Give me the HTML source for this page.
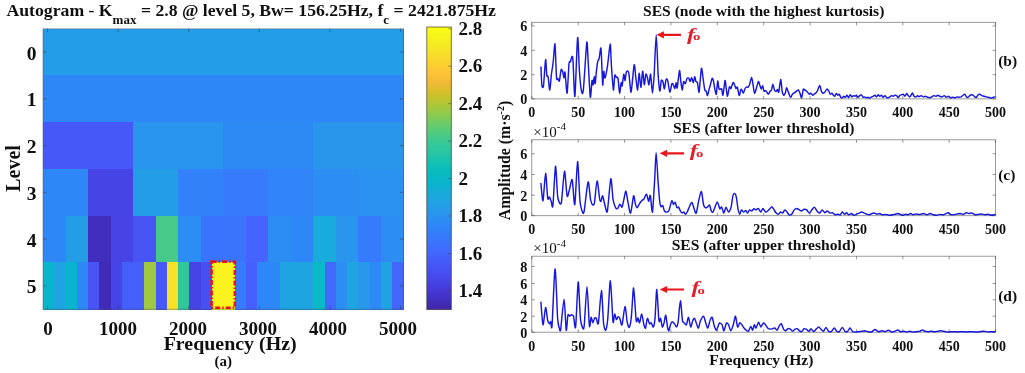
<!DOCTYPE html>
<html><head><meta charset="utf-8"><title>Autogram figure</title>
<style>html,body{margin:0;padding:0;background:#fff}body{width:1025px;height:373px;position:relative;overflow:hidden}</style>
</head><body>
<svg width="1025" height="373" viewBox="0 0 1025 373" style="position:absolute;left:0;top:0">
<rect x="0" y="0" width="1025" height="373" fill="#fff"/>
<g shape-rendering="crispEdges">
<rect x="43.00" y="28.70" width="360.80" height="47.05" fill="#239ee6"/>
<rect x="43.00" y="75.45" width="180.55" height="47.05" fill="#2e87f7"/>
<rect x="223.25" y="75.45" width="180.55" height="47.05" fill="#2e87f7"/>
<rect x="43.00" y="122.20" width="90.42" height="47.05" fill="#4658f7"/>
<rect x="133.12" y="122.20" width="90.42" height="47.05" fill="#2995ed"/>
<rect x="223.25" y="122.20" width="90.42" height="47.05" fill="#2d8af5"/>
<rect x="313.38" y="122.20" width="90.42" height="47.05" fill="#2996ec"/>
<rect x="43.00" y="168.95" width="45.36" height="47.05" fill="#2e87f7"/>
<rect x="88.06" y="168.95" width="45.36" height="47.05" fill="#4744e5"/>
<rect x="133.12" y="168.95" width="45.36" height="47.05" fill="#239ee6"/>
<rect x="178.19" y="168.95" width="45.36" height="47.05" fill="#3281f9"/>
<rect x="223.25" y="168.95" width="45.36" height="47.05" fill="#377afc"/>
<rect x="268.31" y="168.95" width="45.36" height="47.05" fill="#3084f8"/>
<rect x="313.38" y="168.95" width="45.36" height="47.05" fill="#2c8ef2"/>
<rect x="358.44" y="168.95" width="45.36" height="47.05" fill="#2a91f0"/>
<rect x="43.00" y="215.70" width="22.83" height="47.05" fill="#2e87f7"/>
<rect x="65.53" y="215.70" width="22.83" height="47.05" fill="#239ee6"/>
<rect x="88.06" y="215.70" width="22.83" height="47.05" fill="#412ebe"/>
<rect x="110.59" y="215.70" width="22.83" height="47.05" fill="#4744e5"/>
<rect x="133.12" y="215.70" width="22.83" height="47.05" fill="#4755f5"/>
<rect x="155.66" y="215.70" width="22.83" height="47.05" fill="#46c989"/>
<rect x="178.19" y="215.70" width="22.83" height="47.05" fill="#2c8ef2"/>
<rect x="200.72" y="215.70" width="22.83" height="47.05" fill="#3a74fc"/>
<rect x="223.25" y="215.70" width="22.83" height="47.05" fill="#3a74fc"/>
<rect x="245.78" y="215.70" width="22.83" height="47.05" fill="#4563fd"/>
<rect x="268.31" y="215.70" width="22.83" height="47.05" fill="#2c8ef2"/>
<rect x="290.84" y="215.70" width="22.83" height="47.05" fill="#2e87f7"/>
<rect x="313.38" y="215.70" width="22.83" height="47.05" fill="#18abdb"/>
<rect x="335.91" y="215.70" width="22.83" height="47.05" fill="#2995ed"/>
<rect x="358.44" y="215.70" width="22.83" height="47.05" fill="#367bfb"/>
<rect x="380.97" y="215.70" width="22.83" height="47.05" fill="#2c8ef2"/>
<rect x="43.00" y="262.45" width="11.57" height="47.05" fill="#08b6cb"/>
<rect x="54.27" y="262.45" width="11.57" height="47.05" fill="#1ea5e1"/>
<rect x="65.53" y="262.45" width="11.57" height="47.05" fill="#0ab4cf"/>
<rect x="76.80" y="262.45" width="11.57" height="47.05" fill="#2e87f7"/>
<rect x="88.06" y="262.45" width="11.57" height="47.05" fill="#4755f5"/>
<rect x="99.33" y="262.45" width="11.57" height="47.05" fill="#402bb6"/>
<rect x="110.59" y="262.45" width="11.57" height="47.05" fill="#4744e5"/>
<rect x="121.86" y="262.45" width="11.57" height="47.05" fill="#455ffb"/>
<rect x="133.12" y="262.45" width="11.57" height="47.05" fill="#455ffb"/>
<rect x="144.39" y="262.45" width="11.57" height="47.05" fill="#a0c941"/>
<rect x="155.66" y="262.45" width="11.57" height="47.05" fill="#4658f7"/>
<rect x="166.92" y="262.45" width="11.57" height="47.05" fill="#f6e028"/>
<rect x="178.19" y="262.45" width="11.57" height="47.05" fill="#32c79a"/>
<rect x="189.45" y="262.45" width="11.57" height="47.05" fill="#4744e5"/>
<rect x="200.72" y="262.45" width="11.57" height="47.05" fill="#4751f3"/>
<rect x="211.98" y="262.45" width="11.57" height="47.05" fill="#fcf31e"/>
<rect x="223.25" y="262.45" width="11.57" height="47.05" fill="#fcf31e"/>
<rect x="234.52" y="262.45" width="11.57" height="47.05" fill="#367bfb"/>
<rect x="245.78" y="262.45" width="11.57" height="47.05" fill="#455ffb"/>
<rect x="257.05" y="262.45" width="11.57" height="47.05" fill="#2e87f7"/>
<rect x="268.31" y="262.45" width="11.57" height="47.05" fill="#2e87f7"/>
<rect x="279.58" y="262.45" width="11.57" height="47.05" fill="#1ea5e1"/>
<rect x="290.84" y="262.45" width="11.57" height="47.05" fill="#1ea5e1"/>
<rect x="302.11" y="262.45" width="11.57" height="47.05" fill="#1ea5e1"/>
<rect x="313.38" y="262.45" width="11.57" height="47.05" fill="#09b9c5"/>
<rect x="324.64" y="262.45" width="11.57" height="47.05" fill="#416afd"/>
<rect x="335.91" y="262.45" width="11.57" height="47.05" fill="#2c8ef2"/>
<rect x="347.17" y="262.45" width="11.57" height="47.05" fill="#1ea5e1"/>
<rect x="358.44" y="262.45" width="11.57" height="47.05" fill="#2898eb"/>
<rect x="369.70" y="262.45" width="11.57" height="47.05" fill="#2d8af5"/>
<rect x="380.97" y="262.45" width="11.57" height="47.05" fill="#21a2e3"/>
<rect x="392.23" y="262.45" width="11.57" height="47.05" fill="#4366fd"/>
</g>
<rect x="43.00" y="28.70" width="360.50" height="280.50" fill="none" stroke="#3a4a6a" stroke-opacity="0.55" stroke-width="0.8"/>
<rect x="211.6" y="261.6" width="23.2" height="46.2" fill="none" stroke="#e8141c" stroke-width="2.6" stroke-dasharray="5 2 1.5 2"/>
<path d="M47.5 309.2v-3.5M47.5 28.7v3.5M118.1 309.2v-3.5M118.1 28.7v3.5M188.7 309.2v-3.5M188.7 28.7v3.5M259.3 309.2v-3.5M259.3 28.7v3.5M329.9 309.2v-3.5M329.9 28.7v3.5M400.5 309.2v-3.5M400.5 28.7v3.5M43.0 52.1h3.5M403.5 52.1h-3.5M43.0 98.8h3.5M403.5 98.8h-3.5M43.0 145.6h3.5M403.5 145.6h-3.5M43.0 192.3h3.5M403.5 192.3h-3.5M43.0 239.1h3.5M403.5 239.1h-3.5M43.0 285.8h3.5M403.5 285.8h-3.5" stroke="#26324a" stroke-opacity="0.6" stroke-width="0.8" fill="none"/>
<defs><linearGradient id="cb" x1="0" y1="1" x2="0" y2="0">
<stop offset="0.00" stop-color="#3e26a8"/>
<stop offset="0.02" stop-color="#402bb6"/>
<stop offset="0.04" stop-color="#4231c5"/>
<stop offset="0.06" stop-color="#4536d3"/>
<stop offset="0.08" stop-color="#463ddd"/>
<stop offset="0.10" stop-color="#4744e5"/>
<stop offset="0.12" stop-color="#484aee"/>
<stop offset="0.14" stop-color="#4751f3"/>
<stop offset="0.16" stop-color="#4658f7"/>
<stop offset="0.18" stop-color="#455ffb"/>
<stop offset="0.20" stop-color="#4366fd"/>
<stop offset="0.22" stop-color="#3e6efc"/>
<stop offset="0.24" stop-color="#3a74fc"/>
<stop offset="0.26" stop-color="#367bfb"/>
<stop offset="0.28" stop-color="#3281f9"/>
<stop offset="0.30" stop-color="#2e87f7"/>
<stop offset="0.32" stop-color="#2c8ef2"/>
<stop offset="0.34" stop-color="#2995ed"/>
<stop offset="0.36" stop-color="#269be8"/>
<stop offset="0.38" stop-color="#21a2e3"/>
<stop offset="0.40" stop-color="#1ca8de"/>
<stop offset="0.42" stop-color="#14add7"/>
<stop offset="0.44" stop-color="#0cb2d0"/>
<stop offset="0.46" stop-color="#08b7c9"/>
<stop offset="0.48" stop-color="#09bac2"/>
<stop offset="0.50" stop-color="#0abeba"/>
<stop offset="0.52" stop-color="#14c1b2"/>
<stop offset="0.54" stop-color="#1fc4a9"/>
<stop offset="0.56" stop-color="#29c6a2"/>
<stop offset="0.58" stop-color="#32c79a"/>
<stop offset="0.60" stop-color="#3ec990"/>
<stop offset="0.62" stop-color="#4eca82"/>
<stop offset="0.64" stop-color="#5ccb75"/>
<stop offset="0.66" stop-color="#6ecc66"/>
<stop offset="0.68" stop-color="#82cb57"/>
<stop offset="0.70" stop-color="#96ca48"/>
<stop offset="0.72" stop-color="#aac73b"/>
<stop offset="0.74" stop-color="#bdc431"/>
<stop offset="0.76" stop-color="#cec02b"/>
<stop offset="0.78" stop-color="#dfbd2d"/>
<stop offset="0.80" stop-color="#f0ba36"/>
<stop offset="0.82" stop-color="#f7be37"/>
<stop offset="0.84" stop-color="#fec338"/>
<stop offset="0.86" stop-color="#fccc32"/>
<stop offset="0.88" stop-color="#fad42d"/>
<stop offset="0.90" stop-color="#f8dc2a"/>
<stop offset="0.92" stop-color="#f5e426"/>
<stop offset="0.94" stop-color="#f5eb21"/>
<stop offset="0.96" stop-color="#f5f31c"/>
<stop offset="0.98" stop-color="#f7f718"/>
<stop offset="1.00" stop-color="#f9fb15"/>
</linearGradient></defs>
<rect x="426.8" y="27.0" width="24.5" height="282.6" fill="url(#cb)" stroke="#3a3626" stroke-opacity="0.75" stroke-width="0.9"/>
<path d="M451.3 28.8h-3M451.3 66.2h-3M451.3 103.7h-3M451.3 141.1h-3M451.3 178.6h-3M451.3 216.0h-3M451.3 253.5h-3M451.3 290.9h-3" stroke="#333" stroke-opacity="0.6" stroke-width="0.8" fill="none"/>
<g font-family="'Liberation Serif', serif" fill="#0f0f0f">
<text x="6.5" y="15.9" font-size="17.7" font-weight="bold">Autogram - K<tspan font-size="13" dy="8">max</tspan><tspan dy="-8"> = 2.8 @ level 5, Bw= 156.25Hz, f</tspan><tspan font-size="13" dy="8">c</tspan><tspan dy="-8"> = 2421.875Hz</tspan></text>
<text x="36.5" y="59.7" font-size="19.5" font-weight="bold" text-anchor="end" >0</text>
<text x="36.5" y="106.4" font-size="19.5" font-weight="bold" text-anchor="end" >1</text>
<text x="36.5" y="153.2" font-size="19.5" font-weight="bold" text-anchor="end" >2</text>
<text x="36.5" y="199.9" font-size="19.5" font-weight="bold" text-anchor="end" >3</text>
<text x="36.5" y="246.7" font-size="19.5" font-weight="bold" text-anchor="end" >4</text>
<text x="36.5" y="293.4" font-size="19.5" font-weight="bold" text-anchor="end" >5</text>
<text x="48.0" y="335.0" font-size="19" font-weight="bold" text-anchor="middle" >0</text>
<text x="118.0" y="335.0" font-size="19" font-weight="bold" text-anchor="middle" >1000</text>
<text x="188.0" y="335.0" font-size="19" font-weight="bold" text-anchor="middle" >2000</text>
<text x="258.0" y="335.0" font-size="19" font-weight="bold" text-anchor="middle" >3000</text>
<text x="328.0" y="335.0" font-size="19" font-weight="bold" text-anchor="middle" >4000</text>
<text x="398.0" y="335.0" font-size="19" font-weight="bold" text-anchor="middle" >5000</text>
<text transform="translate(20,168.5) rotate(-90)" font-size="20" font-weight="bold" text-anchor="middle">Level</text>
<text x="230.2" y="349.8" font-size="18.8" font-weight="bold" text-anchor="middle" textLength="133" lengthAdjust="spacingAndGlyphs">Frequency (Hz)</text>
<text x="223.2" y="365.8" font-size="15" font-weight="bold" text-anchor="middle" >(a)</text>
<text x="458.5" y="34.9" font-size="19" font-weight="bold" text-anchor="start" >2.8</text>
<text x="458.5" y="72.3" font-size="19" font-weight="bold" text-anchor="start" >2.6</text>
<text x="458.5" y="109.8" font-size="19" font-weight="bold" text-anchor="start" >2.4</text>
<text x="458.5" y="147.2" font-size="19" font-weight="bold" text-anchor="start" >2.2</text>
<text x="458.5" y="184.7" font-size="19" font-weight="bold" text-anchor="start" >2</text>
<text x="458.5" y="222.1" font-size="19" font-weight="bold" text-anchor="start" >1.8</text>
<text x="458.5" y="259.6" font-size="19" font-weight="bold" text-anchor="start" >1.6</text>
<text x="458.5" y="297.1" font-size="19" font-weight="bold" text-anchor="start" >1.4</text>
<text transform="translate(509.5,160.5) rotate(-90)" font-size="15.8" font-weight="bold" text-anchor="middle">Amplitude (m·s<tspan font-size="10" dy="-6">-2</tspan><tspan dy="6">)</tspan></text>
</g>
<rect x="531.8" y="22.3" width="463.8" height="76.6" fill="none" stroke="#555" stroke-opacity="0.75" stroke-width="0.8"/>
<path d="M531.8 98.9v-3M531.8 22.3v3M578.2 98.9v-3M578.2 22.3v3M624.6 98.9v-3M624.6 22.3v3M670.9 98.9v-3M670.9 22.3v3M717.3 98.9v-3M717.3 22.3v3M763.7 98.9v-3M763.7 22.3v3M810.1 98.9v-3M810.1 22.3v3M856.5 98.9v-3M856.5 22.3v3M902.8 98.9v-3M902.8 22.3v3M949.2 98.9v-3M949.2 22.3v3M995.6 98.9v-3M995.6 22.3v3M531.8 98.9h3M995.6 98.9h-3M531.8 74.7h3M995.6 74.7h-3M531.8 50.3h3M995.6 50.3h-3M531.8 25.9h3M995.6 25.9h-3" stroke="#444" stroke-opacity="0.7" stroke-width="0.8" fill="none"/>
<path fill="none" stroke="#1616dc" stroke-width="1.45" stroke-linejoin="round" stroke-linecap="round" d="M541.0 67.0C541.1 69.3 541.5 82.3 541.8 84.8C542.1 87.2 543.0 89.1 543.5 85.8C544.0 82.5 545.1 61.0 545.6 59.7C546.0 58.3 546.5 73.1 546.8 75.3C547.2 77.6 547.7 74.9 548.1 76.8C548.5 78.7 549.3 90.3 549.8 90.0C550.2 89.7 551.0 77.8 551.4 74.3C551.9 70.8 552.6 66.7 553.1 62.8C553.6 58.9 554.6 42.1 555.0 44.0C555.4 45.9 556.1 73.0 556.5 77.4C556.8 81.9 557.5 78.0 557.9 78.5C558.3 78.9 559.0 82.1 559.4 81.0C559.8 79.9 560.6 70.9 561.1 69.7C561.5 68.5 562.3 70.7 562.7 71.8C563.1 72.9 563.7 78.0 564.0 78.1C564.3 78.1 564.6 70.3 565.0 72.2C565.4 74.2 566.6 94.2 567.1 93.1C567.6 92.0 568.6 67.9 569.0 63.8C569.4 59.8 570.1 62.7 570.5 61.7C570.8 60.8 571.6 56.7 571.9 56.5C572.3 56.4 572.6 55.5 573.0 60.7C573.4 65.9 574.3 98.6 574.9 96.3C575.5 93.3 577.0 40.8 577.6 37.7C578.2 34.6 578.9 65.2 579.5 72.2C580.0 79.2 581.0 89.2 581.6 91.5C582.1 93.7 582.8 95.7 583.4 89.4C584.1 83.0 586.2 45.8 586.8 42.5C587.4 39.2 587.8 56.7 588.3 63.8C588.7 71.0 589.9 95.1 590.3 97.3C590.8 98.6 591.7 82.2 592.0 80.6C592.4 78.9 592.8 85.3 593.1 84.8C593.4 84.3 594.0 76.9 594.3 76.8C594.6 76.7 594.9 84.2 595.2 83.7C595.4 83.3 595.9 76.1 596.2 73.3C596.5 70.4 597.3 63.7 597.7 61.7C598.0 59.8 598.7 60.3 599.1 58.6C599.6 56.9 600.6 45.2 601.0 48.6C601.5 52.0 602.3 81.8 602.7 84.8C603.0 87.7 603.4 72.0 603.7 71.2C604.0 70.3 604.5 78.7 605.0 78.1C605.5 77.4 606.8 70.4 607.5 65.9C608.2 61.5 609.7 44.2 610.2 44.0C610.7 43.7 610.9 57.9 611.3 63.8C611.7 69.8 612.9 88.5 613.4 90.0C613.8 91.5 614.4 77.0 614.8 75.3C615.2 73.7 615.9 77.0 616.3 77.4C616.7 77.8 617.5 76.4 618.0 78.5C618.4 80.5 619.2 92.6 619.6 93.1C620.0 93.7 620.8 83.6 621.1 82.7C621.4 81.7 621.8 86.9 622.1 85.8C622.5 84.7 623.4 75.0 623.8 74.3C624.2 73.6 624.7 80.8 625.1 80.6C625.4 80.3 625.9 73.4 626.3 72.2C626.7 71.0 627.6 70.9 628.0 71.2C628.4 71.4 628.6 71.6 629.0 74.3C629.5 77.0 630.5 93.3 631.1 92.1C631.8 90.9 633.5 66.9 634.1 64.9C634.7 62.9 635.3 73.5 635.7 76.8C636.2 80.1 637.2 90.5 637.6 90.0C638.1 89.5 638.7 73.6 639.1 73.3C639.5 72.9 640.5 87.5 641.0 87.3C641.4 87.0 642.2 71.5 642.6 71.2C643.1 70.8 643.9 84.4 644.3 84.8C644.7 85.2 645.4 75.3 645.8 74.3C646.2 73.3 646.8 75.5 647.2 76.8C647.7 78.2 648.5 85.1 648.9 84.8C649.4 84.4 650.1 73.2 650.6 74.3C651.1 75.4 652.0 93.1 652.5 93.1C652.9 93.1 653.7 81.9 654.2 74.3C654.6 66.7 655.7 35.0 656.2 35.0C656.8 35.0 657.7 67.0 658.1 74.3C658.6 81.6 659.4 90.2 659.8 91.0C660.2 91.9 660.9 81.8 661.3 80.6C661.7 79.4 662.5 80.5 662.9 81.6C663.3 82.7 664.0 89.2 664.4 88.9C664.8 88.7 665.6 80.6 666.1 79.5C666.5 78.4 667.3 78.9 667.7 80.6C668.2 82.2 669.3 91.7 669.8 92.1C670.4 92.5 671.5 84.7 671.9 83.7C672.4 82.8 673.0 84.1 673.4 84.8C673.8 85.4 674.5 88.8 674.9 88.5C675.2 88.3 675.8 82.8 676.1 82.7C676.4 82.6 676.7 89.5 677.2 87.9C677.6 86.3 679.0 71.5 679.5 70.5C679.9 69.6 680.4 78.0 680.7 80.6C681.1 83.1 681.8 89.9 682.2 90.0C682.6 90.1 683.2 82.4 683.6 81.6C684.1 80.8 684.9 84.1 685.3 83.7C685.8 83.3 686.6 79.2 687.0 78.5C687.4 77.8 688.3 77.7 688.7 78.1C689.1 78.5 689.8 81.7 690.1 81.6C690.5 81.5 691.2 77.3 691.6 77.4C692.0 77.6 692.9 82.8 693.3 82.7C693.7 82.6 694.4 76.9 694.7 76.8C695.1 76.7 695.6 80.9 696.0 81.6C696.3 82.4 697.0 81.3 697.5 82.7C697.9 84.0 698.6 93.9 699.1 92.1C699.6 90.2 700.9 70.2 701.4 68.4C701.9 66.7 702.7 75.7 703.1 78.5C703.5 81.3 704.4 88.4 704.8 90.0C705.2 91.6 705.9 90.3 706.2 91.0C706.6 91.8 707.1 95.9 707.5 95.6C707.9 95.4 708.8 90.4 709.2 88.9C709.6 87.5 710.0 86.1 710.4 84.8C710.8 83.4 711.7 79.0 712.1 78.5C712.5 77.9 713.0 79.2 713.4 80.6C713.7 81.9 714.4 87.2 714.8 88.9C715.2 90.7 715.9 95.2 716.3 94.2C716.7 93.1 717.4 81.7 717.7 81.0C718.1 80.3 718.5 87.9 719.0 88.9C719.5 90.0 721.2 88.1 721.7 88.9C722.2 89.8 722.5 96.3 722.9 95.2C723.4 94.1 724.6 81.4 725.0 80.6C725.5 79.8 725.9 86.9 726.3 88.9C726.6 91.0 727.1 96.5 727.5 96.3C727.9 96.0 729.0 87.9 729.4 86.9C729.8 85.8 730.4 89.1 730.9 88.5C731.3 88.0 732.5 83.2 733.0 82.7C733.5 82.2 734.3 84.0 734.6 84.8C735.0 85.5 735.5 88.2 735.9 88.5C736.3 88.9 736.9 86.3 737.4 87.3C737.8 88.2 738.8 95.4 739.2 95.6C739.7 95.9 740.5 90.0 740.9 89.4C741.3 88.7 741.8 90.1 742.2 90.6C742.5 91.1 743.1 93.4 743.4 93.1C743.8 92.9 744.7 89.3 745.1 88.5C745.5 87.7 746.2 87.0 746.6 86.9C746.9 86.7 747.7 87.5 748.0 87.3C748.4 87.0 749.0 86.0 749.5 84.8C750.0 83.5 751.1 77.4 751.6 77.4C752.1 77.4 752.7 82.7 753.1 84.8C753.4 86.8 754.1 92.6 754.5 93.1C754.9 93.7 755.7 90.4 756.2 88.9C756.7 87.4 757.8 82.2 758.3 81.6C758.7 81.1 759.4 83.8 759.7 84.8C760.1 85.7 760.8 88.8 761.2 88.9C761.6 89.1 762.3 85.5 762.7 85.8C763.0 86.1 763.6 90.4 763.9 91.0C764.3 91.7 765.0 90.5 765.4 90.6C765.8 90.8 766.5 91.6 766.9 92.1C767.2 92.5 767.9 94.3 768.3 94.2C768.8 94.0 769.8 91.6 770.2 91.0C770.6 90.5 771.1 90.9 771.5 90.0C771.8 89.1 772.5 84.3 772.9 84.3C773.3 84.3 774.0 89.1 774.4 90.0C774.8 90.9 775.7 91.5 776.1 91.5C776.5 91.4 777.2 89.3 777.5 89.4C777.9 89.4 778.4 93.4 778.8 92.1C779.2 90.8 780.2 79.7 780.7 79.5C781.1 79.4 781.8 89.0 782.1 91.0C782.5 93.1 783.2 94.9 783.6 95.2C784.0 95.5 784.9 94.1 785.3 93.1C785.7 92.2 786.2 88.2 786.5 87.9C786.9 87.6 787.6 90.1 788.0 91.0C788.4 92.0 789.1 94.4 789.5 95.2C789.8 96.0 790.5 97.4 790.9 97.3C791.3 97.2 792.0 94.7 792.4 94.2C792.8 93.6 793.5 93.4 793.8 93.1C794.2 92.9 794.9 92.4 795.3 92.1C795.7 91.8 796.6 90.9 797.0 90.6C797.4 90.3 798.1 89.7 798.5 90.0C798.8 90.3 799.5 92.1 799.9 93.1C800.3 94.1 801.2 98.2 801.6 97.7C802.0 97.2 802.9 90.4 803.3 89.4C803.7 88.4 804.3 89.8 804.7 90.0C805.1 90.2 806.0 90.7 806.4 91.0C806.8 91.4 807.5 92.3 807.9 92.7C808.3 93.1 809.1 94.1 809.5 94.2C809.9 94.2 810.6 93.0 811.0 93.1C811.4 93.3 812.3 95.1 812.7 95.2C813.1 95.4 813.7 94.4 814.1 94.2C814.6 93.9 815.4 93.5 815.8 93.1C816.2 92.7 816.8 92.0 817.3 91.0C817.8 90.0 819.3 85.4 819.8 85.4C820.3 85.4 820.9 90.0 821.3 91.0C821.6 92.0 822.3 92.9 822.7 93.1C823.1 93.3 823.8 93.0 824.2 92.7C824.6 92.4 825.3 91.5 825.6 91.0C826.0 90.5 826.7 88.9 827.1 88.9C827.5 88.9 828.4 90.4 828.8 91.0C829.2 91.7 829.8 93.9 830.3 94.2C830.7 94.4 831.5 93.0 831.9 93.1C832.3 93.3 833.0 94.8 833.4 95.2C833.7 95.6 834.3 96.5 834.6 96.3C835.0 96.1 835.9 93.7 836.3 93.5C836.7 93.4 837.4 95.1 837.8 95.2C838.2 95.3 838.9 93.9 839.2 94.2C839.6 94.4 840.3 96.9 840.7 97.3C841.1 97.8 842.0 97.9 842.4 97.7C842.8 97.6 843.4 96.3 843.8 96.3C844.3 96.2 845.1 97.4 845.5 97.3C845.9 97.2 846.6 95.2 847.0 95.2C847.4 95.3 848.0 97.8 848.5 97.7C848.9 97.7 849.7 94.9 850.1 94.8C850.6 94.7 851.4 96.8 851.8 96.9C852.2 97.0 852.9 95.7 853.3 95.6C853.7 95.6 854.5 96.3 854.9 96.3C855.3 96.2 856.0 95.1 856.4 95.2C856.8 95.4 857.6 97.3 858.1 97.3C858.5 97.4 859.3 96.0 859.7 95.6C860.2 95.3 861.0 94.6 861.4 94.8C861.9 95.0 862.7 97.0 863.1 97.3C863.5 97.6 864.3 96.8 864.8 96.9C865.2 96.9 866.0 97.7 866.4 97.7C866.9 97.8 867.7 97.3 868.1 97.3C868.6 97.4 869.4 98.2 869.8 98.2C870.2 98.1 871.0 97.1 871.5 96.9C871.9 96.7 872.7 96.5 873.1 96.3C873.6 96.1 874.4 95.1 874.8 95.2C875.2 95.3 876.1 96.9 876.5 96.9C876.9 96.8 877.7 94.9 878.2 94.8C878.6 94.7 879.4 96.2 879.8 96.3C880.3 96.3 881.1 95.1 881.5 95.2C881.9 95.4 882.7 97.3 883.2 97.3C883.6 97.4 884.4 95.6 884.9 95.6C885.3 95.6 886.1 97.0 886.5 97.3C887.0 97.6 887.8 97.8 888.2 97.7C888.6 97.7 889.4 97.2 889.9 96.9C890.3 96.6 891.1 95.7 891.5 95.6C892.0 95.6 892.8 96.3 893.2 96.3C893.7 96.2 894.5 95.3 894.9 95.2C895.3 95.1 896.1 95.3 896.6 95.6C897.0 96.0 897.8 97.8 898.2 97.7C898.7 97.7 899.5 95.6 899.9 95.2C900.4 94.8 901.2 94.9 901.6 94.8C902.0 94.7 902.8 94.0 903.3 94.2C903.7 94.4 904.5 96.3 904.9 96.3C905.4 96.2 906.2 93.6 906.6 93.5C907.0 93.5 907.8 95.2 908.3 95.6C908.7 96.1 909.5 97.1 910.0 96.9C910.4 96.7 911.3 94.7 911.6 94.2C912.0 93.7 912.1 92.9 912.5 93.1C912.8 93.4 913.7 95.8 914.1 96.3C914.6 96.8 915.4 97.0 915.8 96.9C916.3 96.8 917.1 95.7 917.5 95.6C917.9 95.6 918.5 96.4 918.7 96.5C919.0 96.6 919.2 96.6 919.6 96.5C919.9 96.4 920.7 95.6 921.2 95.6C921.7 95.7 922.8 96.8 923.3 96.9C923.9 97.0 924.9 96.2 925.4 96.3C926.0 96.3 927.0 97.1 927.5 97.3C928.1 97.5 929.1 97.8 929.6 97.7C930.1 97.7 931.2 97.2 931.7 96.9C932.2 96.6 933.2 95.7 933.8 95.6C934.3 95.6 935.3 96.3 935.9 96.3C936.4 96.2 937.4 95.2 938.0 95.2C938.5 95.2 939.5 96.3 940.1 96.5C940.6 96.7 941.6 97.0 942.2 96.9C942.7 96.8 943.7 95.6 944.2 95.6C944.8 95.7 945.8 97.2 946.3 97.3C946.9 97.4 947.9 96.2 948.4 96.3C949.0 96.3 950.0 97.6 950.5 97.7C951.1 97.9 952.1 97.3 952.6 97.3C953.2 97.3 954.2 97.8 954.7 97.7C955.3 97.7 956.3 96.9 956.8 96.9C957.3 96.8 958.3 97.3 958.9 97.3C959.4 97.3 960.4 97.2 961.0 96.9C961.5 96.6 962.6 95.6 963.1 95.2C963.6 94.9 964.3 94.0 964.7 94.2C965.2 94.4 966.0 96.5 966.4 96.9C966.9 97.3 967.7 97.5 968.1 97.3C968.5 97.2 969.3 96.0 969.8 95.6C970.2 95.3 971.0 94.9 971.4 94.8C971.9 94.7 972.7 94.9 973.1 95.2C973.6 95.5 974.4 96.6 974.8 96.9C975.2 97.2 976.0 97.6 976.5 97.3C976.9 97.0 977.7 95.2 978.1 94.8C978.6 94.4 979.3 94.1 979.8 94.2C980.3 94.3 981.4 95.4 981.9 95.6C982.4 95.9 983.5 96.1 984.0 96.3C984.5 96.4 985.5 96.8 986.1 96.9C986.6 97.0 987.6 97.2 988.2 97.3C988.7 97.4 989.7 97.9 990.3 97.9C990.8 98.0 991.8 97.9 992.4 97.7C992.9 97.6 994.2 97.0 994.5 96.9"/>
<rect x="531.8" y="139.8" width="463.8" height="75.9" fill="none" stroke="#555" stroke-opacity="0.75" stroke-width="0.8"/>
<path d="M531.8 215.7v-3M531.8 139.8v3M578.2 215.7v-3M578.2 139.8v3M624.6 215.7v-3M624.6 139.8v3M670.9 215.7v-3M670.9 139.8v3M717.3 215.7v-3M717.3 139.8v3M763.7 215.7v-3M763.7 139.8v3M810.1 215.7v-3M810.1 139.8v3M856.5 215.7v-3M856.5 139.8v3M902.8 215.7v-3M902.8 139.8v3M949.2 215.7v-3M949.2 139.8v3M995.6 215.7v-3M995.6 139.8v3M531.8 215.7h3M995.6 215.7h-3M531.8 195.2h3M995.6 195.2h-3M531.8 174.5h3M995.6 174.5h-3M531.8 153.7h3M995.6 153.7h-3" stroke="#444" stroke-opacity="0.7" stroke-width="0.8" fill="none"/>
<path fill="none" stroke="#1616dc" stroke-width="1.45" stroke-linejoin="round" stroke-linecap="round" d="M540.9 183.5C541.2 185.7 542.4 202.0 543.0 200.7C543.6 199.3 545.0 173.7 545.6 173.4C546.2 173.1 547.2 195.0 547.7 198.1C548.2 201.2 549.0 196.6 549.5 197.0C549.9 197.4 550.7 200.2 551.2 201.3C551.6 202.4 552.3 210.1 552.9 205.6C553.5 201.0 554.9 167.6 555.5 166.3C556.1 165.1 557.1 191.3 557.6 195.9C558.1 200.6 558.8 201.6 559.3 202.4C559.8 203.2 560.8 206.0 561.5 201.9C562.1 197.9 563.8 172.0 564.5 171.3C565.2 170.5 566.4 193.4 567.1 195.9C567.7 198.5 568.5 192.7 569.2 190.6C569.9 188.5 571.5 178.0 572.2 179.8C572.9 181.7 574.1 206.9 574.8 204.5C575.5 202.2 576.9 162.2 577.6 161.6C578.2 161.0 579.3 193.7 579.9 200.2C580.6 206.8 581.9 210.6 582.5 212.0C583.1 213.4 583.5 214.9 584.2 211.0C584.9 207.1 587.2 183.4 588.1 182.0C588.9 180.6 590.0 197.2 590.7 200.2C591.3 203.2 592.3 204.7 592.8 205.0C593.3 205.2 594.0 205.5 594.5 202.4C595.1 199.3 596.4 181.3 597.1 180.9C597.8 180.5 599.2 196.5 599.7 199.2C600.2 201.8 600.6 201.7 601.0 201.3C601.4 200.9 602.1 195.2 602.7 195.9C603.2 196.6 604.6 204.7 605.3 206.7C605.9 208.6 606.7 214.6 607.4 211.0C608.1 207.3 610.1 180.3 610.8 178.8C611.6 177.2 612.4 195.4 613.0 199.2C613.6 202.9 614.9 206.5 615.6 207.7C616.2 208.9 617.1 208.9 617.7 208.4C618.3 207.9 619.3 204.3 619.8 204.1C620.4 203.9 621.5 207.6 622.0 207.1C622.5 206.6 623.2 202.3 623.7 200.2C624.2 198.2 625.3 190.9 625.9 191.2C626.4 191.5 627.4 199.5 628.0 202.4C628.6 205.2 629.8 213.9 630.6 213.1C631.3 212.3 633.0 197.2 633.6 195.9C634.2 194.7 634.8 201.9 635.3 203.5C635.7 205.0 636.5 207.7 637.0 207.7C637.6 207.7 638.9 204.4 639.6 203.5C640.3 202.5 641.6 200.8 642.2 200.2C642.7 199.7 643.3 199.9 643.9 199.2C644.4 198.4 645.8 193.9 646.5 194.2C647.1 194.5 648.1 201.1 648.6 201.3C649.1 201.5 649.8 194.1 650.3 195.5C650.8 196.9 651.9 213.9 652.5 212.0C653.0 210.1 654.1 188.6 654.6 180.9C655.1 173.2 655.7 152.6 656.1 152.6C656.6 152.6 657.6 174.4 658.0 180.9C658.5 187.4 659.4 199.0 659.8 202.4C660.2 205.7 660.7 206.3 661.0 206.7C661.4 207.1 662.3 205.0 662.8 205.6C663.2 206.2 663.9 210.1 664.5 211.0C665.0 211.8 666.4 212.2 667.1 212.0C667.7 211.9 668.6 211.4 669.2 209.9C669.8 208.4 671.2 201.4 671.8 200.7C672.3 200.0 673.0 204.3 673.5 204.5C673.9 204.7 674.8 202.0 675.2 202.4C675.7 202.8 676.5 207.1 676.9 207.7C677.4 208.4 678.2 206.7 678.6 207.1C679.1 207.5 679.9 210.2 680.4 211.0C680.8 211.7 681.6 213.0 682.1 213.1C682.5 213.2 683.3 211.9 683.8 212.0C684.2 212.2 685.1 214.2 685.5 214.2C686.0 214.2 686.7 213.0 687.2 212.0C687.7 211.1 688.8 207.9 689.4 206.7C690.0 205.4 691.3 202.1 691.9 202.4C692.6 202.7 693.5 207.4 694.1 208.8C694.7 210.2 695.6 214.2 696.2 213.1C696.9 212.0 698.1 203.0 698.8 200.2C699.5 197.4 700.8 191.1 701.4 191.6C702.0 192.2 703.0 202.4 703.5 204.5C704.0 206.6 704.8 207.4 705.3 207.7C705.8 208.1 706.8 207.5 707.4 207.1C708.0 206.7 709.0 204.5 709.5 205.0C710.0 205.5 710.8 210.0 711.3 211.0C711.7 211.9 712.5 212.6 713.0 212.0C713.5 211.5 714.6 208.0 715.1 206.7C715.7 205.4 716.7 201.8 717.3 201.9C717.8 202.1 719.1 206.8 719.4 207.7C719.8 208.6 719.7 208.9 720.0 208.8C720.3 208.7 721.2 206.5 721.7 207.1C722.2 207.7 723.3 213.1 723.9 213.1C724.4 213.1 725.4 207.2 726.0 207.1C726.6 207.0 727.9 212.1 728.6 212.0C729.3 212.0 730.6 208.8 731.2 206.7C731.7 204.6 732.4 197.7 732.9 195.9C733.3 194.2 734.1 193.2 734.6 193.4C735.0 193.5 735.9 195.0 736.3 197.0C736.8 199.0 737.6 206.6 738.0 208.8C738.5 211.0 739.3 214.0 739.7 214.2C740.2 214.3 741.0 210.2 741.5 209.9C742.0 209.6 743.0 212.0 743.6 212.0C744.2 212.1 745.2 210.4 745.8 210.5C746.3 210.7 747.0 213.2 747.5 213.1C748.0 213.0 749.1 210.2 749.6 209.9C750.2 209.6 751.2 211.1 751.8 211.0C752.3 210.8 753.3 209.0 753.9 208.8C754.5 208.7 755.5 209.9 756.1 209.9C756.6 209.8 757.6 208.1 758.2 208.4C758.8 208.7 760.2 212.0 760.8 212.0C761.4 212.0 762.3 208.4 762.9 208.4C763.5 208.4 764.9 211.7 765.5 212.0C766.1 212.4 767.1 211.4 767.6 211.0C768.2 210.5 769.2 209.4 769.8 208.8C770.3 208.3 771.4 206.5 771.9 206.7C772.5 206.8 773.5 209.1 774.1 209.9C774.6 210.7 775.7 212.5 776.2 213.1C776.8 213.7 777.8 214.3 778.4 214.2C778.9 214.0 780.0 212.2 780.5 212.0C781.1 211.9 782.1 213.4 782.7 213.1C783.2 212.8 784.2 210.0 784.8 209.9C785.4 209.7 786.4 211.4 787.0 212.0C787.5 212.7 788.5 214.5 789.1 214.8C789.7 215.1 791.0 214.8 791.7 214.2C792.3 213.5 793.6 210.6 794.2 209.9C794.9 209.1 796.2 208.4 796.8 208.4C797.5 208.4 798.8 209.6 799.4 209.9C800.0 210.2 800.9 211.0 801.5 211.0C802.2 210.9 803.5 209.4 804.1 209.2C804.8 209.1 806.0 209.4 806.7 209.9C807.4 210.4 808.6 213.1 809.3 213.1C809.9 213.1 811.2 210.7 811.8 209.9C812.5 209.1 813.8 207.0 814.4 207.1C815.1 207.2 816.3 210.2 817.0 211.0C817.7 211.7 818.9 213.2 819.6 213.1C820.2 213.0 821.5 209.9 822.1 209.9C822.8 209.8 824.1 212.5 824.7 212.7C825.4 212.8 826.6 210.9 827.3 211.0C828.0 211.0 829.2 212.9 829.9 213.1C830.5 213.3 831.8 212.5 832.4 212.7C833.1 212.9 834.4 214.6 835.0 214.8C835.7 215.0 836.9 214.2 837.6 214.2C838.3 214.2 839.6 215.1 840.2 214.8C840.8 214.5 841.8 212.1 842.3 212.0C842.9 212.0 843.9 214.1 844.5 214.2C845.0 214.3 846.1 212.6 846.6 212.7C847.2 212.8 848.1 214.7 848.8 214.8C849.4 214.9 850.7 213.5 851.3 213.5C852.0 213.6 853.2 215.2 853.9 215.3C854.6 215.3 855.8 214.5 856.5 214.2C857.2 213.9 858.4 213.4 859.1 213.1C859.7 212.8 861.0 212.0 861.6 212.0C862.3 212.0 863.5 212.8 864.2 213.1C864.9 213.4 866.1 214.0 866.8 214.2C867.5 214.4 868.7 214.9 869.4 214.8C870.0 214.7 871.3 213.8 871.9 213.5C872.6 213.3 873.8 213.0 874.5 213.1C875.2 213.2 876.4 214.1 877.1 214.2C877.8 214.2 879.0 213.5 879.7 213.5C880.3 213.6 881.6 214.7 882.2 214.8C882.9 214.9 884.1 214.4 884.8 214.4C885.5 214.4 886.7 214.7 887.4 214.8C888.1 214.9 889.3 215.3 890.0 215.3C890.6 215.3 891.9 215.0 892.5 214.8C893.2 214.7 894.4 214.3 895.1 214.2C895.8 214.0 897.0 213.5 897.7 213.5C898.4 213.6 899.6 214.2 900.3 214.4C900.9 214.6 902.2 215.3 902.8 215.3C903.5 215.2 904.7 214.2 905.4 214.2C906.1 214.1 907.3 214.9 908.0 214.8C908.7 214.7 909.9 213.5 910.6 213.5C911.2 213.5 912.5 214.8 913.1 214.8C913.8 214.9 915.0 214.0 915.7 214.0C916.4 213.9 917.7 214.3 918.3 214.4C918.9 214.5 919.8 214.5 920.5 214.4C921.2 214.3 922.9 213.5 923.7 213.5C924.5 213.6 926.1 214.8 926.9 214.8C927.8 214.8 929.3 213.5 930.2 213.5C931.0 213.5 932.5 214.6 933.4 214.8C934.2 215.0 935.8 215.3 936.6 215.3C937.4 215.2 939.0 214.5 939.8 214.4C940.6 214.3 942.2 214.9 943.0 214.8C943.9 214.7 945.5 213.8 946.2 213.5C946.9 213.3 947.8 212.6 948.4 212.7C948.9 212.8 949.8 214.1 950.5 214.4C951.2 214.7 952.9 214.9 953.8 214.8C954.6 214.8 956.1 214.1 957.0 214.0C957.8 213.8 959.4 213.5 960.2 213.5C961.0 213.6 962.6 214.5 963.4 214.4C964.2 214.3 965.5 212.8 966.2 212.7C966.9 212.6 968.0 213.5 968.8 213.5C969.5 213.6 971.2 212.9 972.0 213.1C972.8 213.3 974.4 214.7 975.2 214.8C976.1 215.0 977.6 214.5 978.4 214.4C979.3 214.3 980.8 213.9 981.7 214.0C982.5 214.0 984.0 214.8 984.9 214.8C985.7 214.9 987.3 214.1 988.1 214.2C988.9 214.2 990.5 215.2 991.3 215.3C992.1 215.3 994.1 214.9 994.5 214.8"/>
<rect x="531.8" y="256.2" width="463.8" height="76.0" fill="none" stroke="#555" stroke-opacity="0.75" stroke-width="0.8"/>
<path d="M531.8 332.2v-3M531.8 256.2v3M578.2 332.2v-3M578.2 256.2v3M624.6 332.2v-3M624.6 256.2v3M670.9 332.2v-3M670.9 256.2v3M717.3 332.2v-3M717.3 256.2v3M763.7 332.2v-3M763.7 256.2v3M810.1 332.2v-3M810.1 256.2v3M856.5 332.2v-3M856.5 256.2v3M902.8 332.2v-3M902.8 256.2v3M949.2 332.2v-3M949.2 256.2v3M995.6 332.2v-3M995.6 256.2v3M531.8 332.2h3M995.6 332.2h-3M531.8 316.2h3M995.6 316.2h-3M531.8 299.8h3M995.6 299.8h-3M531.8 283.5h3M995.6 283.5h-3M531.8 266.5h3M995.6 266.5h-3" stroke="#444" stroke-opacity="0.7" stroke-width="0.8" fill="none"/>
<path fill="none" stroke="#1616dc" stroke-width="1.45" stroke-linejoin="round" stroke-linecap="round" d="M540.9 302.3C541.2 305.2 542.4 324.1 543.0 324.8C543.6 325.5 545.0 308.2 545.6 307.6C546.2 307.1 547.2 318.4 547.7 320.5C548.2 322.6 549.1 323.6 549.5 323.7C549.8 323.9 550.4 321.3 550.7 321.6C551.1 321.9 551.5 331.9 552.0 325.9C552.6 319.1 554.3 270.0 555.0 269.0C555.8 268.0 557.1 310.7 557.6 318.4C558.2 326.0 558.9 326.5 559.3 328.0C559.7 329.6 560.0 331.9 560.6 330.2C561.2 326.4 563.3 299.1 564.1 299.1C564.8 299.1 565.7 328.1 566.2 330.2C566.7 331.9 567.5 317.0 567.9 315.2C568.4 313.3 569.2 316.3 569.6 316.2C570.1 316.2 570.8 314.7 571.3 314.7C571.8 314.7 572.9 314.6 573.5 316.2C574.1 317.8 575.0 331.4 575.6 327.0C576.3 322.5 577.6 283.0 578.2 281.9C578.8 280.8 579.8 312.5 580.4 318.4C580.9 324.3 582.0 326.4 582.5 327.4C583.0 328.4 583.6 331.2 584.2 325.9C584.8 320.6 586.3 286.6 587.0 286.6C587.7 286.6 588.8 321.9 589.4 325.9C589.9 329.9 590.6 317.7 591.1 317.3C591.5 316.9 592.4 322.5 592.8 322.7C593.3 322.8 594.1 319.0 594.5 318.4C595.0 317.8 595.7 317.3 596.2 317.9C596.7 318.6 597.7 326.7 598.4 323.1C599.1 319.5 600.7 290.5 601.4 290.5C602.1 290.4 603.0 317.5 603.5 322.7C604.1 327.8 605.1 330.7 605.7 330.2C606.2 329.6 607.2 324.8 607.8 318.4C608.4 312.0 609.7 280.4 610.4 280.8C611.1 281.2 612.4 317.3 613.0 321.6C613.5 325.9 614.2 314.4 614.7 314.1C615.1 313.8 616.0 319.1 616.4 319.5C616.9 319.8 617.7 316.8 618.1 316.7C618.6 316.5 619.3 317.3 619.8 318.4C620.3 319.4 621.3 326.3 622.0 324.8C622.7 323.3 624.3 307.0 625.0 306.6C625.7 306.2 626.6 318.9 627.1 321.6C627.7 324.3 628.7 328.1 629.3 327.4C629.8 326.7 630.9 321.4 631.4 316.2C632.0 311.1 633.0 287.3 633.6 287.9C634.2 288.5 635.6 316.6 636.2 320.5C636.7 324.4 637.4 317.7 637.9 317.9C638.3 318.2 639.1 323.2 639.6 322.7C640.1 322.2 641.2 313.8 641.7 314.1C642.3 314.4 643.4 323.0 643.9 324.8C644.4 326.6 645.2 328.9 645.6 328.0C646.0 327.2 646.8 318.9 647.3 318.4C647.8 317.8 649.0 323.2 649.5 323.7C650.0 324.3 650.7 322.3 651.2 322.7C651.7 323.1 652.8 327.5 653.3 327.0C653.8 326.4 654.6 323.3 655.0 318.4C655.5 313.5 656.3 289.1 656.8 289.4C657.3 289.7 658.4 316.8 658.9 320.5C659.4 324.3 660.2 317.5 660.6 318.4C661.1 319.2 661.9 326.4 662.3 327.0C662.8 327.5 663.6 324.2 664.1 322.7C664.5 321.1 665.3 314.6 665.8 315.2C666.2 315.7 667.1 324.9 667.5 327.0C667.9 329.0 668.4 331.1 668.8 330.8C669.2 330.5 670.0 326.0 670.5 324.8C670.9 323.6 671.7 321.7 672.2 321.6C672.7 321.5 673.8 323.0 674.4 323.7C674.9 324.4 676.0 327.2 676.5 327.0C677.0 326.7 677.7 325.0 678.2 321.6C678.7 318.2 679.8 300.9 680.4 300.8C680.9 300.6 682.0 317.7 682.5 320.5C683.0 323.4 683.7 322.1 684.2 322.7C684.7 323.2 685.8 325.5 686.4 324.8C686.9 324.1 688.0 317.0 688.5 317.3C689.1 317.6 690.1 326.5 690.7 327.0C691.2 327.4 692.3 321.6 692.8 320.5C693.3 319.4 694.1 318.1 694.5 318.4C695.0 318.7 695.7 321.4 696.2 322.7C696.7 323.9 697.8 328.3 698.4 328.0C698.9 327.8 699.9 322.1 700.5 320.5C701.2 319.0 702.9 316.0 703.5 316.2C704.2 316.5 705.1 321.1 705.7 322.7C706.2 324.2 707.3 328.3 707.8 328.0C708.4 327.8 709.4 321.9 710.0 320.5C710.5 319.1 711.6 316.6 712.1 317.3C712.7 318.0 713.7 324.2 714.3 325.9C714.8 327.6 715.8 330.5 716.4 330.2C717.0 329.9 718.5 324.7 719.0 323.7C719.5 322.8 719.6 323.0 720.0 323.1C720.4 323.2 721.6 323.8 722.1 324.8C722.6 325.8 723.3 331.0 723.9 330.8C724.4 330.6 725.8 323.9 726.4 323.1C727.1 322.3 728.0 323.8 728.6 324.8C729.1 325.8 730.1 330.8 730.7 330.8C731.3 330.8 732.7 326.7 733.3 324.8C733.9 322.9 734.9 316.0 735.5 316.2C736.0 316.5 737.0 326.1 737.6 327.0C738.2 327.8 739.2 322.9 739.7 322.7C740.3 322.4 741.3 324.1 741.9 324.8C742.4 325.5 743.5 327.3 744.0 328.0C744.6 328.7 745.6 329.8 746.2 330.2C746.7 330.6 747.7 331.7 748.3 331.3C748.9 330.8 750.3 326.7 750.9 326.5C751.5 326.4 752.2 330.4 752.6 330.2C753.1 330.0 753.9 325.1 754.3 324.8C754.8 324.5 755.5 328.4 756.1 328.0C756.6 327.7 758.0 322.4 758.6 322.2C759.2 322.1 760.2 326.8 760.8 327.0C761.4 327.1 762.7 323.4 763.3 323.1C764.0 322.8 764.9 324.2 765.5 324.8C766.1 325.5 767.1 327.5 767.6 328.0C768.2 328.6 769.2 329.0 769.8 329.1C770.4 329.2 771.7 328.8 772.4 328.7C773.0 328.5 774.3 327.8 774.9 328.0C775.5 328.2 776.5 330.5 777.1 330.2C777.6 329.9 778.7 326.7 779.2 325.9C779.8 325.1 780.8 323.3 781.4 323.7C781.9 324.2 783.0 328.2 783.5 329.1C784.1 330.0 785.1 330.9 785.7 330.8C786.2 330.8 787.2 328.9 787.8 328.7C788.4 328.5 789.8 328.8 790.4 329.1C791.0 329.4 791.9 331.3 792.5 331.3C793.1 331.3 794.5 329.4 795.1 329.1C795.7 328.8 796.7 328.5 797.3 328.7C797.8 328.9 798.8 330.4 799.4 330.8C800.0 331.2 800.9 331.9 801.5 331.7C802.2 331.4 803.5 329.0 804.1 328.7C804.8 328.4 806.1 329.2 806.7 329.5C807.3 329.9 808.3 331.4 808.8 331.3C809.4 331.1 810.4 328.6 811.0 328.7C811.6 328.7 812.9 331.6 813.6 331.7C814.2 331.7 815.5 329.7 816.1 329.1C816.8 328.5 818.0 326.9 818.7 327.0C819.4 327.0 820.7 329.0 821.3 329.5C821.9 330.1 822.8 331.5 823.4 331.3C824.0 331.0 825.3 327.4 826.0 327.4C826.7 327.4 827.9 330.7 828.6 331.3C829.3 331.8 830.4 331.9 831.2 331.7C831.9 331.3 833.4 328.1 834.2 328.0C834.9 328.0 836.1 330.8 836.7 331.3C837.4 331.7 838.6 331.9 839.3 331.7C840.0 331.2 841.6 327.4 842.3 327.4C843.0 327.3 844.2 330.7 844.9 331.3C845.6 331.8 846.8 331.9 847.5 331.7C848.1 331.3 849.4 328.0 850.0 328.0C850.7 328.0 851.9 331.2 852.6 331.7C853.3 331.9 854.4 331.9 855.2 332.1C855.9 331.9 857.6 331.8 858.4 331.7C859.2 331.6 860.8 331.4 861.6 331.3C862.5 331.1 864.0 330.8 864.8 330.8C865.7 330.9 867.2 331.5 868.1 331.7C868.9 331.8 870.4 331.9 871.3 332.1C872.2 331.8 874.0 329.6 874.9 329.5C875.9 329.5 877.4 331.5 878.4 331.7C879.3 331.8 881.1 330.8 882.0 330.8C882.9 330.8 884.4 331.8 885.2 331.7C886.1 331.6 887.6 330.1 888.5 330.2C889.3 330.2 890.8 331.9 891.7 332.1C892.5 331.9 894.1 331.5 894.9 331.3C895.7 331.0 896.9 329.9 897.7 330.0C898.4 330.0 899.9 331.5 900.7 331.7C901.5 331.8 902.9 331.2 903.7 331.3C904.5 331.3 905.9 331.9 906.7 332.1C907.5 331.9 909.1 331.3 909.9 331.3C910.8 331.3 912.3 331.9 913.1 332.1C914.0 331.9 915.5 331.8 916.4 331.7C917.2 331.6 919.5 331.4 920.0 331.3C920.5 331.1 920.2 331.0 920.5 330.8C920.8 330.7 922.1 329.9 922.6 330.0C923.2 330.0 924.1 331.0 924.8 331.3C925.5 331.5 927.2 331.7 928.0 331.7C928.8 331.7 930.4 331.3 931.2 331.3C932.1 331.3 933.6 331.7 934.4 331.7C935.3 331.7 936.8 331.4 937.7 331.3C938.5 331.1 940.1 330.8 940.9 330.8C941.6 330.8 942.8 331.1 943.5 331.3C944.2 331.4 945.5 331.6 946.2 331.7C947.0 331.8 948.5 331.9 949.5 331.9C950.4 331.9 952.6 331.7 953.8 331.7C954.9 331.7 956.9 331.9 958.0 331.9C959.2 331.9 961.2 331.7 962.3 331.7C963.5 331.7 965.5 331.9 966.6 331.9C967.7 331.9 969.8 331.7 970.9 331.7C972.0 331.7 974.1 331.9 975.2 331.9C976.3 331.9 978.4 331.8 979.5 331.7C980.6 331.6 982.7 331.2 983.8 331.3C984.9 331.3 987.0 331.8 988.1 331.9C989.2 331.9 991.5 331.7 992.4 331.7C993.3 331.7 994.6 331.7 995.0 331.7"/>
<g font-family="'Liberation Serif', serif" fill="#0f0f0f">
<text x="763.7" y="16.1" font-size="15.6" font-weight="bold" text-anchor="middle" >SES (node with the highest kurtosis)</text>
<text x="998.2" y="66.2" font-size="15.5" font-weight="bold" text-anchor="start" >(b)</text>
<text x="531.8" y="117.4" font-size="14" font-weight="bold" text-anchor="middle" >0</text>
<text x="578.2" y="117.4" font-size="14" font-weight="bold" text-anchor="middle" >50</text>
<text x="624.6" y="117.4" font-size="14" font-weight="bold" text-anchor="middle" >100</text>
<text x="670.9" y="117.4" font-size="14" font-weight="bold" text-anchor="middle" >150</text>
<text x="717.3" y="117.4" font-size="14" font-weight="bold" text-anchor="middle" >200</text>
<text x="763.7" y="117.4" font-size="14" font-weight="bold" text-anchor="middle" >250</text>
<text x="810.1" y="117.4" font-size="14" font-weight="bold" text-anchor="middle" >300</text>
<text x="856.5" y="117.4" font-size="14" font-weight="bold" text-anchor="middle" >350</text>
<text x="902.8" y="117.4" font-size="14" font-weight="bold" text-anchor="middle" >400</text>
<text x="949.2" y="117.4" font-size="14" font-weight="bold" text-anchor="middle" >450</text>
<text x="995.6" y="117.4" font-size="14" font-weight="bold" text-anchor="middle" >500</text>
<text x="527.3" y="104.2" font-size="14.2" font-weight="bold" text-anchor="end" >0</text>
<text x="527.3" y="80.0" font-size="14.2" font-weight="bold" text-anchor="end" >2</text>
<text x="527.3" y="55.6" font-size="14.2" font-weight="bold" text-anchor="end" >4</text>
<text x="527.3" y="31.2" font-size="14.2" font-weight="bold" text-anchor="end" >6</text>
<text x="763.7" y="133.0" font-size="15.6" font-weight="bold" text-anchor="middle" >SES (after lower threshold)</text>
<text x="998.2" y="180.2" font-size="15.5" font-weight="bold" text-anchor="start" >(c)</text>
<text x="531.8" y="234.4" font-size="14" font-weight="bold" text-anchor="middle" >0</text>
<text x="578.2" y="234.4" font-size="14" font-weight="bold" text-anchor="middle" >50</text>
<text x="624.6" y="234.4" font-size="14" font-weight="bold" text-anchor="middle" >100</text>
<text x="670.9" y="234.4" font-size="14" font-weight="bold" text-anchor="middle" >150</text>
<text x="717.3" y="234.4" font-size="14" font-weight="bold" text-anchor="middle" >200</text>
<text x="763.7" y="234.4" font-size="14" font-weight="bold" text-anchor="middle" >250</text>
<text x="810.1" y="234.4" font-size="14" font-weight="bold" text-anchor="middle" >300</text>
<text x="856.5" y="234.4" font-size="14" font-weight="bold" text-anchor="middle" >350</text>
<text x="902.8" y="234.4" font-size="14" font-weight="bold" text-anchor="middle" >400</text>
<text x="949.2" y="234.4" font-size="14" font-weight="bold" text-anchor="middle" >450</text>
<text x="995.6" y="234.4" font-size="14" font-weight="bold" text-anchor="middle" >500</text>
<text x="527.3" y="221.0" font-size="14.2" font-weight="bold" text-anchor="end" >0</text>
<text x="527.3" y="200.5" font-size="14.2" font-weight="bold" text-anchor="end" >2</text>
<text x="527.3" y="179.8" font-size="14.2" font-weight="bold" text-anchor="end" >4</text>
<text x="527.3" y="159.0" font-size="14.2" font-weight="bold" text-anchor="end" >6</text>
<text x="533.3" y="136.6" font-size="15" font-weight="normal">×10<tspan font-size="11" dy="-6.5">-4</tspan></text>
<text x="763.7" y="249.5" font-size="15.6" font-weight="bold" text-anchor="middle" >SES (after upper threshold)</text>
<text x="998.2" y="300.5" font-size="15.5" font-weight="bold" text-anchor="start" >(d)</text>
<text x="531.8" y="350.9" font-size="14" font-weight="bold" text-anchor="middle" >0</text>
<text x="578.2" y="350.9" font-size="14" font-weight="bold" text-anchor="middle" >50</text>
<text x="624.6" y="350.9" font-size="14" font-weight="bold" text-anchor="middle" >100</text>
<text x="670.9" y="350.9" font-size="14" font-weight="bold" text-anchor="middle" >150</text>
<text x="717.3" y="350.9" font-size="14" font-weight="bold" text-anchor="middle" >200</text>
<text x="763.7" y="350.9" font-size="14" font-weight="bold" text-anchor="middle" >250</text>
<text x="810.1" y="350.9" font-size="14" font-weight="bold" text-anchor="middle" >300</text>
<text x="856.5" y="350.9" font-size="14" font-weight="bold" text-anchor="middle" >350</text>
<text x="902.8" y="350.9" font-size="14" font-weight="bold" text-anchor="middle" >400</text>
<text x="949.2" y="350.9" font-size="14" font-weight="bold" text-anchor="middle" >450</text>
<text x="995.6" y="350.9" font-size="14" font-weight="bold" text-anchor="middle" >500</text>
<text x="527.3" y="337.5" font-size="14.2" font-weight="bold" text-anchor="end" >0</text>
<text x="527.3" y="321.5" font-size="14.2" font-weight="bold" text-anchor="end" >2</text>
<text x="527.3" y="305.1" font-size="14.2" font-weight="bold" text-anchor="end" >4</text>
<text x="527.3" y="288.8" font-size="14.2" font-weight="bold" text-anchor="end" >6</text>
<text x="527.3" y="271.8" font-size="14.2" font-weight="bold" text-anchor="end" >8</text>
<text x="533.3" y="253.2" font-size="15" font-weight="normal">×10<tspan font-size="11" dy="-6.5">-4</tspan></text>
<text x="761.4" y="364.5" font-size="15.6" font-weight="bold" text-anchor="middle" >Frequency (Hz)</text>
</g>
<path d="M656.5 34.8l7.4 -3.6v2.5h17v2.2h-17v2.5z" fill="#e8161c"/>
<g transform="translate(687.0 39.6) scale(1.4 1)"><text x="0" y="0" font-family="'Liberation Serif', serif" font-size="17" font-weight="bold" font-style="italic" fill="#e0202a">f<tspan font-size="10.5" font-style="normal" dx="-1.3" dy="0.8">o</tspan></text></g>
<path d="M659.7 153.3l7.4 -3.6v2.5h17v2.2h-17v2.5z" fill="#e8161c"/>
<g transform="translate(689.8 155.9) scale(1.4 1)"><text x="0" y="0" font-family="'Liberation Serif', serif" font-size="17" font-weight="bold" font-style="italic" fill="#e0202a">f<tspan font-size="10.5" font-style="normal" dx="-1.3" dy="0.8">o</tspan></text></g>
<path d="M659.7 289.5l7.4 -3.6v2.5h17v2.2h-17v2.5z" fill="#e8161c"/>
<g transform="translate(691.4 292.9) scale(1.4 1)"><text x="0" y="0" font-family="'Liberation Serif', serif" font-size="17" font-weight="bold" font-style="italic" fill="#e0202a">f<tspan font-size="10.5" font-style="normal" dx="-1.3" dy="0.8">o</tspan></text></g>
</svg>
</body></html>
